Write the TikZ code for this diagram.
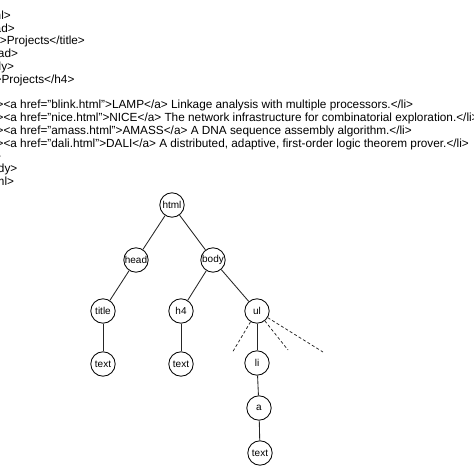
\documentclass[tikz,border=0pt]{standalone}
\usepackage{fontspec}
\setmainfont{Liberation Sans}
\begin{document}
\begin{tikzpicture}[x=1pt,y=-1pt,
  codeline/.style={anchor=base west,inner sep=0pt,font=\fontsize{11.8}{12}\selectfont,text=black},
  tnode/.style={draw,circle,line width=0.85pt,minimum size=24.4pt,inner sep=0pt,font=\fontsize{10}{10}\selectfont},
  tedge/.style={line width=0.85pt,draw=black!85},
  dedge/.style={line width=0.75pt,draw=black!85,dash pattern=on 3pt off 2.2pt}]
\useasboundingbox (0,0) rectangle (474,474);
\begin{scope}
\clip (0,0) rectangle (474,474);
\def\bx{-25.5}
\def\lx{-15.7}
\node[codeline] (c1) at (\bx,19.2) {<html>};
\node[codeline] (c2) at (\bx,32.0) {<head>};
\node[codeline] (c3) at (\bx,44.8) {<title>Projects</title>};
\node[codeline] (c4) at (\bx,57.6) {</head>};
\node[codeline] (c5) at (\bx,70.4) {<body>};
\node[codeline] (c6) at (\bx,83.2) {<h4>Projects</h4>};
\node[codeline] (c7) at (\bx,96.0) {<ul>};
\node[codeline] (c8) at (\lx,108.8) {<li><a href="blink.html">LAMP</a> Linkage analysis with multiple processors.</li>};
\node[codeline] (c9) at (\lx,121.6) {<li><a href="nice.html">NICE</a> The network infrastructure for combinatorial exploration.</li>};
\node[codeline] (c10) at (\lx,134.4) {<li><a href="amass.html">AMASS</a> A DNA sequence assembly algorithm.</li>};
\node[codeline] (c11) at (\lx,147.2) {<li><a href="dali.html">DALI</a> A distributed, adaptive, first-order logic theorem prover.</li>};
\node[codeline] (c12) at (\bx,160.0) {</ul>};
\node[codeline] (c13) at (\bx,172.8) {</body>};
\node[codeline] (c14) at (\bx,185.6) {</html>};
\end{scope}
\node[tnode] (html) at (172,205) {html};
\node[tnode] (head) at (136,260) {head};
\node[tnode] (body) at (213,260) {body};
\node[tnode] (title) at (103,311) {title};
\node[tnode] (h4) at (181,311) {h4};
\node[tnode] (ul) at (257,311) {ul};
\node[tnode] (t1) at (103,364) {text};
\node[tnode] (t2) at (181,364) {text};
\node[tnode] (li) at (257,363) {li};
\node[tnode] (a) at (259,408) {a};
\node[tnode] (t3) at (260,453) {text};
\coordinate (d1) at (232,353);
\coordinate (d2) at (288,350);
\coordinate (d3) at (323,352);
\draw[tedge] (html) -- (head);
\draw[tedge] (html) -- (body);
\draw[tedge] (head) -- (title);
\draw[tedge] (body) -- (h4);
\draw[tedge] (body) -- (ul);
\draw[tedge] (title) -- (t1);
\draw[tedge] (h4) -- (t2);
\draw[tedge] (ul) -- (li);
\draw[tedge] (li) -- (a);
\draw[tedge] (a) -- (t3);
\draw[dedge] (ul) -- (d1);
\draw[dedge] (ul) -- (d2);
\draw[dedge] (ul) -- (d3);
\end{tikzpicture}
\end{document}
